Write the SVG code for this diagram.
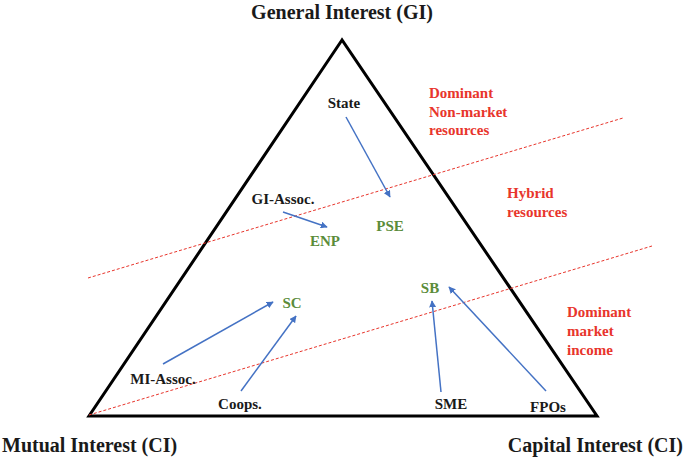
<svg xmlns="http://www.w3.org/2000/svg" width="685" height="461" viewBox="0 0 685 461">
<style>
.big{font-size:20px;fill:#1a1a1a}
.lbl{font-size:15px;fill:#1a1a1a;text-anchor:middle}
.grn{font-size:15px;fill:#5b8c3a;text-anchor:middle}
.red{font-size:15px;fill:#e8352c}
.arr{stroke:#4472c4;stroke-width:1.5;fill:none;marker-end:url(#ah)}
.dash{stroke:#e8352c;stroke-width:1;stroke-dasharray:3 2;fill:none}
</style>
<defs>
<marker id="ah" viewBox="0 0 10 10" refX="9" refY="5" markerWidth="7" markerHeight="7" orient="auto" markerUnits="userSpaceOnUse">
<path d="M0,0 L10,5 L0,10 z" fill="#4472c4"/>
</marker>
</defs>
<rect width="685" height="461" fill="#ffffff"/>
<g id="triangle">
<polygon points="342,40 89,416 597,416" fill="none" stroke="#000" stroke-width="3" stroke-linejoin="miter"/>
</g>
<g id="dividers">
<line class="dash" x1="88" y1="278" x2="623" y2="118"/>
<line class="dash" x1="89" y1="415" x2="652" y2="246"/>
</g>
<g id="connectors">
<line class="arr" x1="346" y1="117" x2="390" y2="197"/>
<line class="arr" x1="283" y1="212" x2="327" y2="227"/>
<line class="arr" x1="163" y1="364" x2="273" y2="302"/>
<line class="arr" x1="241" y1="391" x2="296" y2="316"/>
<line class="arr" x1="441" y1="392" x2="432" y2="301"/>
<line class="arr" x1="546" y1="391" x2="449" y2="287"/>
</g>
<g font-family="Liberation Serif, Times New Roman, serif" font-weight="bold">
<g id="corner-gi"><text class="big" x="342" y="19" text-anchor="middle">General Interest (GI)</text></g>
<g id="corner-mi"><text class="big" x="2" y="452">Mutual Interest (CI)</text></g>
<g id="corner-ci"><text class="big" x="683" y="452" text-anchor="end">Capital Interest (CI)</text></g>
<g id="state"><text class="lbl" x="344" y="108">State</text></g>
<g id="gi-assoc"><text class="lbl" x="283" y="204">GI-Assoc.</text></g>
<g id="enp"><text class="grn" x="325" y="246">ENP</text></g>
<g id="pse"><text class="grn" x="390" y="231">PSE</text></g>
<g id="sc"><text class="grn" x="292" y="308">SC</text></g>
<g id="sb"><text class="grn" x="430" y="293">SB</text></g>
<g id="mi-assoc"><text class="lbl" x="163" y="384">MI-Assoc.</text></g>
<g id="coops"><text class="lbl" x="240" y="409">Coops.</text></g>
<g id="sme"><text class="lbl" x="451" y="409">SME</text></g>
<g id="fpos"><text class="lbl" x="548" y="412">FPOs</text></g>
<g id="zone-nonmarket"><text class="red" x="429" y="98">Dominant<tspan x="429" y="117">Non-market</tspan><tspan x="429" y="135">resources</tspan></text></g>
<g id="zone-hybrid"><text class="red" x="507" y="198">Hybrid<tspan x="507" y="217">resources</tspan></text></g>
<g id="zone-market"><text class="red" x="567" y="317">Dominant<tspan x="567" y="336">market</tspan><tspan x="567" y="355">income</tspan></text></g>
</g>
</svg>
